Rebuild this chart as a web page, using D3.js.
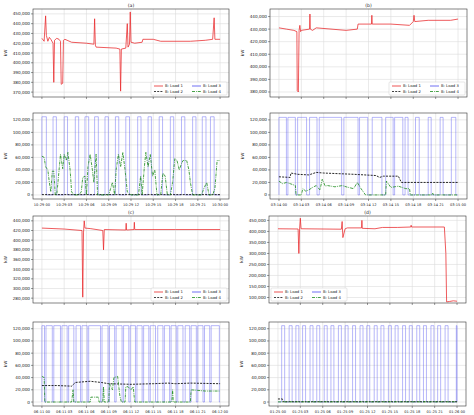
<!DOCTYPE html>
<html><head><meta charset="utf-8">
<script src="https://cdn.jsdelivr.net/npm/d3@7"></script>
<style>body{margin:0;background:#fff}svg{font-family:"DejaVu Sans",sans-serif}</style>
</head><body><svg id="c" width="474" height="415"></svg>
<script>
// Data: hours since midnight, values in kW (thousands)
const titles = ['(a)', '(b)', '(c)', '(d)'];
const datePrefix = ['10-29', '03-14', '06-11', '01-25'];
const nextPrefix = ['10-30', '03-15', '06-12', '01-26'];

const load1 = [
  [[0,425],[0.3,422],[0.5,448],[0.6,428],[0.8,422],[1.0,426],[1.2,424],[1.5,420],[1.6,380],[1.7,423],[2,425],[2.3,424],[2.5,422],[2.6,378],[2.8,379],[2.9,423],[3.1,424],[4,421],[6,420],[7.0,419],[7.1,445],[7.2,418],[7.3,416],[10,415],[10.5,414],[10.6,371],[10.7,414],[11.3,415],[11.5,440],[11.6,416],[11.8,419],[11.9,452],[12.0,421],[12.5,420],[13.5,421],[13.6,424],[15,424],[16,422],[20,422],[22,423],[23,424],[23.2,446],[23.3,424],[24,424]],
  [[0,431],[1,430],[2,429],[2.4,428],[2.45,381],[2.6,380],[2.7,429],[2.8,433],[2.9,428],[3,429],[4.1,430],[4.15,442],[4.2,430],[4.5,429],[5,431],[9,429],[10.5,430],[10.6,434],[12,434],[12.4,434],[12.45,441],[12.5,434],[15,434],[17.5,433],[18,436],[18.1,441],[18.2,436],[20,437],[23,437],[24,438]],
  [[0,425],[3,423],[5.4,420],[5.5,282],[5.6,415],[5.7,440],[5.8,425],[6.5,424],[8.2,420],[8.3,380],[8.4,422],[11.3,421],[11.35,435],[11.4,421],[12.4,422],[12.45,437],[12.5,422],[18,422],[24,422]],
  [[0,412],[2.7,411],[2.8,300],[2.9,411],[3.0,460],[3.1,412],[8.5,410],[8.6,445],[8.7,372],[9.0,412],[9.3,416],[11.2,416],[11.25,450],[11.3,414],[13,412],[14,418],[16,418],[17.8,420],[17.85,428],[17.9,420],[22.3,420],[22.5,300],[22.6,80],[23,82],[23.5,85],[24,83]]
];
const load2 = [
  [[0,0.5],[24,0.5]],
  [[0,29],[1.5,28],[1.6,35],[2.5,33],[4,32],[5,36],[6,35],[10,33],[13,31],[13.5,28],[14,30],[16,30],[16.4,20],[24,20]],
  [[0,27],[2,27],[4,26],[4.5,32],[6.5,34],[8,32],[9,30],[12,29],[15,30],[17,31],[18,30],[20,31],[24,30]],
  [[0,5],[0.6,5],[0.7,0.5],[24,0.5]]
];
const load3On = [
  [[0,0.6],[1.5,1.95],[3.0,3.45],[4.5,4.95],[5.8,6.3],[7.1,7.6],[8.5,8.95],[9.9,10.35],[11.3,11.8],[12.9,13.35],[14.3,14.75],[15.8,16.25],[17.3,17.75],[18.8,19.25],[20.3,20.75],[21.6,22.1],[22.7,23.2]],
  [[0,1.0],[1.2,2.2],[2.5,3.7],[4.1,5.1],[5.4,8.4],[8.7,10.6],[10.8,11.9],[12.5,13.8],[14.3,15.3],[15.5,16.6],[16.9,17.3],[18.3,18.8],[20.0,20.4],[21.6,22.0],[23.1,23.7]],
  [[0,0.35],[0.55,1.4],[1.6,2.5],[2.7,3.4],[3.6,4.3],[4.6,5.2],[5.4,6.1],[6.3,7.9],[8.1,8.9],[9.1,9.8],[10.0,10.8],[11.0,11.7],[11.9,12.6],[12.8,13.5],[13.7,14.4],[14.6,15.3],[15.6,16.3],[16.5,17.2],[17.4,18.1],[18.3,19.0],[19.3,19.9],[20.1,20.8],[21.0,21.7],[21.9,22.6],[22.8,23.9]],
  [[0.5,0.9],[1.5,1.9],[2.4,2.8],[3.3,3.7],[4.3,4.7],[5.2,5.6],[6.2,6.6],[7.1,7.5],[8.1,8.5],[9.0,9.4],[10.0,10.4],[11.0,11.4],[11.9,12.3],[12.9,13.3],[13.8,14.2],[14.8,15.2],[15.7,16.1],[16.7,17.1],[17.6,18.0],[18.6,19.0],[19.5,19.9],[20.5,20.9],[21.4,21.8],[22.4,22.8],[23.9,24]]
];
const load3Level = [125, 124, 125, 125];
const load4 = [
  [[0,62],[0.3,60],[0.5,45],[0.8,40],[1.0,20],[1.2,5],[1.4,38],[1.6,38],[1.8,0],[2.0,0],[2.2,25],[2.5,65],[2.8,42],[3.0,65],[3.3,55],[3.5,68],[3.8,40],[4.0,5],[4.3,0],[5.0,0],[5.3,5],[5.5,28],[5.8,30],[6.0,0],[6.2,45],[6.5,65],[6.8,40],[7.0,20],[7.3,65],[7.5,0],[9.0,0],[9.5,20],[9.8,0],[10.0,40],[10.3,65],[10.6,45],[10.9,68],[11.2,40],[11.5,5],[12,0],[13.0,0],[13.3,30],[13.5,0],[13.8,45],[14.0,68],[14.3,45],[14.6,65],[14.9,30],[15.2,40],[15.5,0],[16,0],[16.3,35],[16.6,30],[16.9,0],[17.3,0],[17.6,20],[17.9,58],[18.2,55],[18.5,40],[18.8,50],[19.0,55],[19.5,55],[19.8,40],[20.0,20],[20.3,0],[21.5,0],[21.8,10],[22.2,20],[22.5,0],[23,0],[23.3,10],[23.6,55],[23.9,55]],
  [[0,22],[0.5,18],[1,20],[1.5,18],[2.2,15],[2.3,0],[3,0],[3.2,10],[3.6,6],[4,8],[4.5,12],[5,15],[5.5,8],[5.8,25],[6.2,14],[6.5,15],[7.5,13],[8.5,15],[9,13],[10,10],[10.5,20],[11,10],[11.6,0],[14.3,0],[14.4,22],[15,12],[16,14],[17,10],[17.5,10],[17.6,0],[20.5,0],[20.6,3],[20.7,0],[24,0]],
  [[0,42],[0.3,40],[0.4,0],[4,0],[4.2,20],[4.3,0],[6.5,0],[6.6,8],[7.6,8],[7.7,0],[8.2,0],[8.3,25],[8.4,0],[9,0],[9.1,30],[9.5,20],[9.7,40],[10.2,42],[10.5,10],[10.7,0],[11.2,0],[11.3,25],[11.6,25],[12.0,20],[12.3,25],[12.5,0],[17.5,0],[17.6,20],[17.7,0],[20,0],[20.1,20],[22,18],[24,18]],
  [[0,0.3],[24,0.3]]
];
const topDomain = [[365,455],[376,446],[270,450],[75,470]];
const topTicks = [d3.range(370,451,10), d3.range(380,441,10), d3.range(280,441,20), d3.range(100,451,50)];
const legendLeft = [false, false, false, true];

const svg = d3.select('#c');
const panels = [
  {x0:33, x1:229, t0:9, t1:97, b0:113, b1:199},
  {x0:270, x1:467, t0:9, t1:97, b0:113, b1:199},
  {x0:33, x1:229, t0:216, t1:303, b0:322, b1:406},
  {x0:269, x1:466, t0:216, t1:303, b0:322, b1:406}
];
const fmt = d3.format(',');
const gridC = '#dcdcdc', txtC = '#222', fs = 4.2, xfs = 3.6;

function stepSeries(on, level) {
  const pts = [[0,0]];
  on.forEach(([a,b]) => { pts.push([a,0],[a,level],[b,level],[b,0]); });
  pts.push([24,0]);
  return pts;
}

panels.forEach((p, i) => {
  const x = d3.scaleLinear().domain([-1.2, 25.2]).range([p.x0, p.x1]);
  const hours = d3.range(0, 25, 3);
  const pairs = [[p.t0, p.t1, d3.scaleLinear().domain(topDomain[i]).range([p.t1, p.t0]), topTicks[i]],
                 [p.b0, p.b1, d3.scaleLinear().domain([-6.5, 131]).range([p.b1, p.b0]), d3.range(0, 121, 20)]];
  pairs.forEach(([y0, y1, y, ticks], k) => {
    const g = svg.append('g');
    g.selectAll('.gx').data(hours).join('line')
      .attr('x1', d => x(d)).attr('x2', d => x(d)).attr('y1', y0).attr('y2', y1)
      .attr('stroke', gridC).attr('stroke-width', 0.6);
    g.selectAll('.gy').data(ticks).join('line')
      .attr('x1', p.x0).attr('x2', p.x1).attr('y1', d => y(d)).attr('y2', d => y(d))
      .attr('stroke', gridC).attr('stroke-width', 0.6);
    const line = d3.line().x(d => x(d[0])).y(d => y(d[1]));
    const clip = 'clip' + i + k;
    svg.append('clipPath').attr('id', clip).append('rect')
      .attr('x', p.x0).attr('y', y0).attr('width', p.x1 - p.x0).attr('height', y1 - y0);
    const lg = g.append('g').attr('clip-path', `url(#${clip})`);
    if (k === 0) {
      lg.append('path').attr('d', line(load1[i])).attr('fill', 'none')
        .attr('stroke', '#e8282a').attr('stroke-width', 0.9).attr('opacity', 0.85);
    } else {
      lg.append('path').attr('d', line(stepSeries(load3On[i], load3Level[i]))).attr('fill', 'none')
        .attr('stroke', '#4b4bf0').attr('stroke-width', 0.5).attr('opacity', 0.8);
      lg.append('path').attr('d', line(load2[i])).attr('fill', 'none')
        .attr('stroke', '#111').attr('stroke-width', 0.9).attr('stroke-dasharray', '2,1.2');
      lg.append('path').attr('d', line(load4[i])).attr('fill', 'none')
        .attr('stroke', '#1a8a1a').attr('stroke-width', 0.8).attr('stroke-dasharray', '3,1,0.8,1');
    }
    g.append('rect').attr('x', p.x0).attr('y', y0).attr('width', p.x1 - p.x0).attr('height', y1 - y0)
      .attr('fill', 'none').attr('stroke', '#333').attr('stroke-width', 0.6);
    g.selectAll('.yt').data(ticks).join('line')
      .attr('x1', p.x0 - 2).attr('x2', p.x0).attr('y1', d => y(d)).attr('y2', d => y(d))
      .attr('stroke', '#333').attr('stroke-width', 0.5);
    g.selectAll('.yl').data(ticks).join('text')
      .attr('x', p.x0 - 3).attr('y', d => y(d) + 1.5).attr('text-anchor', 'end')
      .attr('font-size', fs).attr('fill', txtC).text(d => fmt(d * 1000));
    g.append('text').attr('transform', `translate(${p.x0 - 26},${(y0 + y1) / 2}) rotate(-90)`)
      .attr('text-anchor', 'middle').attr('font-size', fs).attr('fill', txtC).text('kW');
    g.selectAll('.xt').data(hours).join('line')
      .attr('x1', d => x(d)).attr('x2', d => x(d)).attr('y1', y1).attr('y2', y1 + 2)
      .attr('stroke', '#333').attr('stroke-width', 0.5);
    if (k === 1) {
      g.selectAll('.xl').data(hours).join('text')
        .attr('x', d => x(d)).attr('y', y1 + 6.5).attr('text-anchor', 'middle')
        .attr('font-size', xfs).attr('fill', txtC)
        .text(d => d === 24 ? nextPrefix[i] + ' 00' : datePrefix[i] + ' ' + String(d).padStart(2, '0'));
    } else {
      g.append('text').attr('x', (p.x0 + p.x1) / 2).attr('y', y0 - 2.5).attr('text-anchor', 'middle')
        .attr('font-size', fs + 0.4).attr('fill', txtC).text(titles[i]);
      const lw = 76, lh = 13;
      const lx = legendLeft[i] ? p.x0 + 2 : p.x1 - lw - 2, ly = y1 - lh - 2;
      const leg = g.append('g').attr('transform', `translate(${lx},${ly})`);
      leg.append('rect').attr('width', lw).attr('height', lh).attr('rx', 1)
        .attr('fill', '#fff').attr('fill-opacity', 0.85).attr('stroke', '#ccc').attr('stroke-width', 0.5);
      const items = [
        {n:'B: Load 1', c:'#e8282a', d:null, col:0, row:0},
        {n:'B: Load 2', c:'#111', d:'2,1.2', col:0, row:1},
        {n:'B: Load 3', c:'#4b4bf0', d:null, col:1, row:0},
        {n:'B: Load 4', c:'#1a8a1a', d:'3,1,0.8,1', col:1, row:1}
      ];
      items.forEach(it => {
        const ix = 3 + it.col * 38, iy = 4 + it.row * 5.5;
        leg.append('line').attr('x1', ix).attr('x2', ix + 9).attr('y1', iy).attr('y2', iy)
          .attr('stroke', it.c).attr('stroke-width', 0.8).attr('stroke-dasharray', it.d);
        leg.append('text').attr('x', ix + 11).attr('y', iy + 1.4).attr('font-size', 3.8)
          .attr('fill', txtC).text(it.n);
      });
    }
  });
});
</script></body></html>
